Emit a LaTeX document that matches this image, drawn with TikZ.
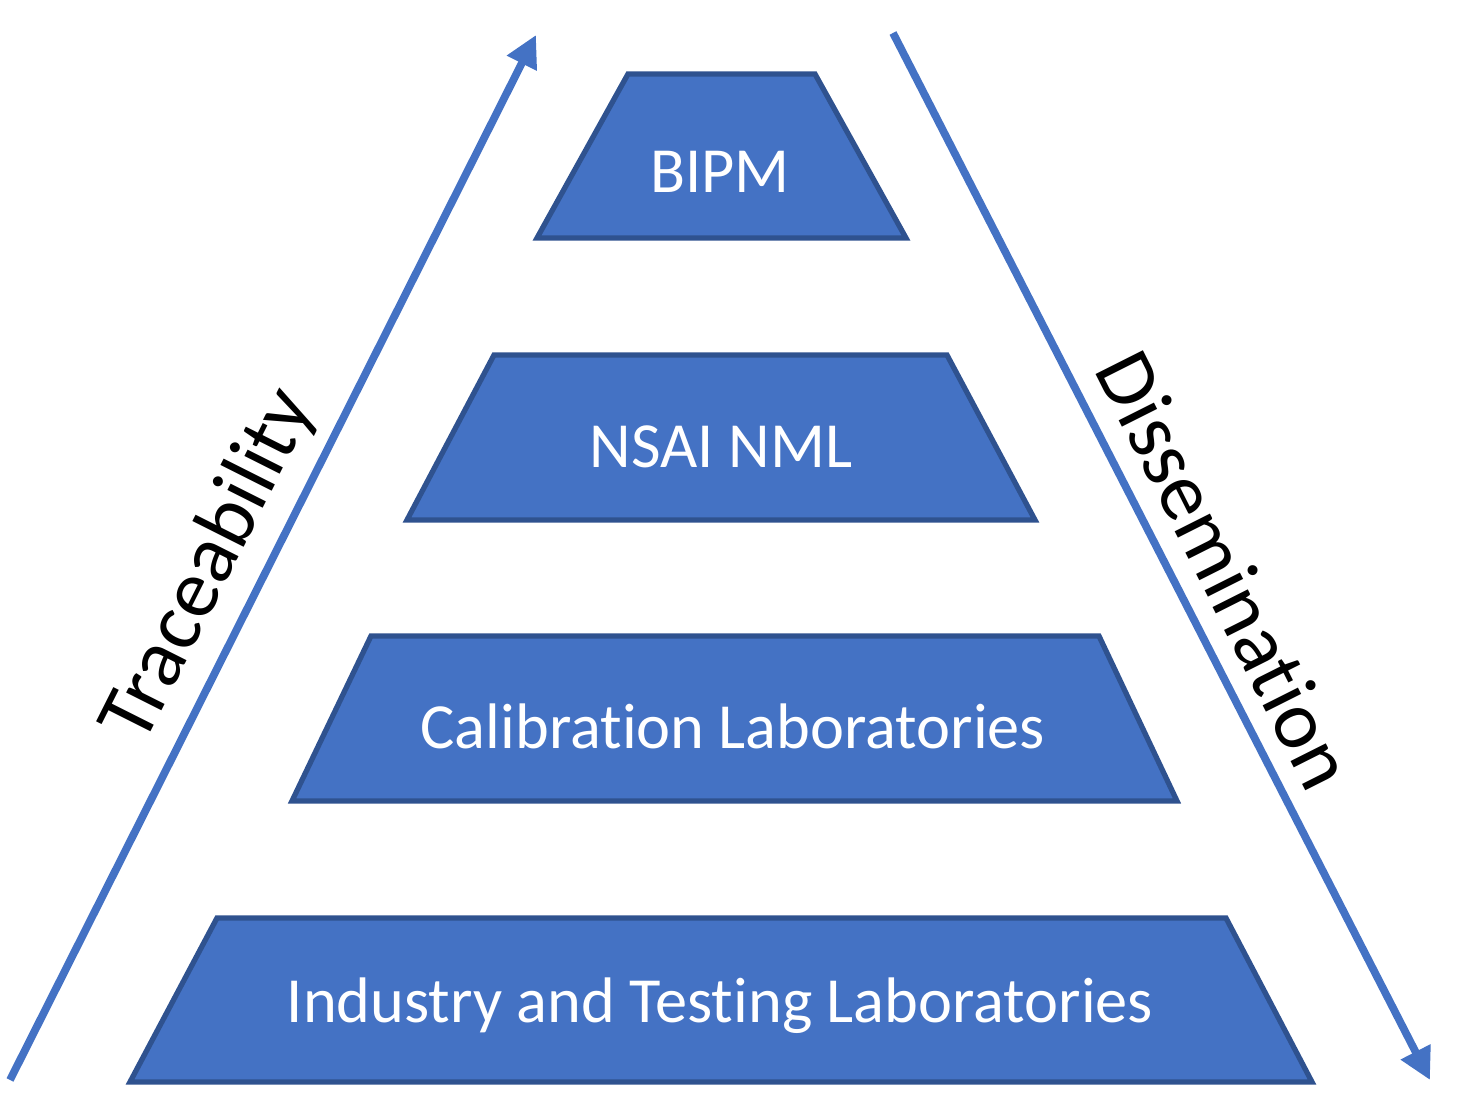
\documentclass[tikz,border=0pt]{standalone}
\usepackage{fontspec}
\setmainfont{Carlito}[Ligatures = NoCommon]
\usetikzlibrary{arrows.meta}
\definecolor{tierfill}{HTML}{4472C4}
\definecolor{tierline}{HTML}{2F528F}
\tikzset{
    tier/.style = {fill = tierfill , draw = tierline , line width = 1.5pt},
    tiertext/.style = {text = white , font = \fontsize{18.3}{22}\selectfont},
    flow/.style = {draw = tierfill , line width = 2.2pt , -{Triangle[length = 9pt , width = 9pt]}},
    sidetext/.style = {font = \fontsize{23.5}{28}\selectfont}
}
\begin{document}
\begin{tikzpicture}[x = 0.01cm , y = -0.01cm]
    \useasboundingbox (0,0) rectangle (1462,1113);
    % Πυραμίδα
    \draw[tier] (628,74) -- (815,74) -- (906,238) -- (537,238) -- cycle;
    \draw[tier] (494,355) -- (947,355) -- (1035,520) -- (407,520) -- cycle;
    \draw[tier] (371,636) -- (1099,636) -- (1177,801) -- (292,801) -- cycle;
    \draw[tier] (217,918) -- (1226,918) -- (1312,1082) -- (130,1082) -- cycle;
    \node[tiertext] (bipm) at (720,172) {BIPM};
    \node[tiertext] (nml) at (721,447) {NSAI NML};
    \node[tiertext] (cal) at (733,726) {Calibration Laboratories};
    \node[tiertext] (ind) at (720,1006) {Industry and Testing Laboratories};
    % Βέλη
    \coordinate (tb) at (10,1080);
    \coordinate (tt) at (536,35);
    \coordinate (dt) at (893,33);
    \coordinate (db) at (1430,1080);
    \draw[flow] (tb) -- (tt);
    \draw[flow] (dt) -- (db);
    \node[sidetext , rotate = 63.3] (trace) at (210,566) {Traceability};
    \node[sidetext , rotate = -63.3] (diss) at (1226,570) {Dissemination};
\end{tikzpicture}
\end{document}
